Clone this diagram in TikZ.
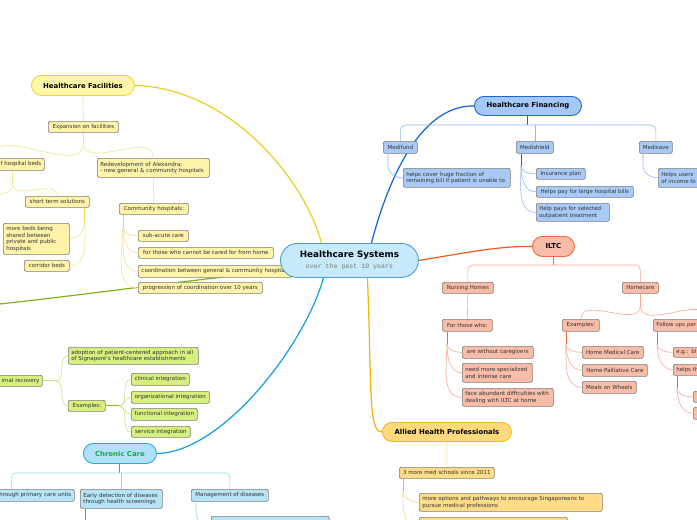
\documentclass[tikz,border=0pt]{standalone}
\usepackage{fontspec}
\setmainfont{DejaVu Sans}
\newfontfamily\monof{Liberation Mono}
\usetikzlibrary{calc}
\pgfdeclarelayer{bg}
\pgfsetlayers{bg,main}
\definecolor{subb}{HTML}{7E7E76}
\definecolor{subt}{HTML}{333333}
\definecolor{yfill}{HTML}{FEF3A9}
\definecolor{ytfill}{HTML}{FFF6AA}
\definecolor{ybord}{HTML}{EDD63C}
\definecolor{ymain}{HTML}{E9D01E}
\definecolor{ylight}{HTML}{F1E590}
\definecolor{bfill}{HTML}{A9CAF6}
\definecolor{btfill}{HTML}{A6C8F8}
\definecolor{bbord}{HTML}{1F66D2}
\definecolor{bmain}{HTML}{1063D6}
\definecolor{blight}{HTML}{92B7EE}
\definecolor{ofill}{HTML}{F8BCA9}
\definecolor{obord}{HTML}{F0693A}
\definecolor{omain}{HTML}{F05A22}
\definecolor{olight}{HTML}{F7A88E}
\definecolor{gfill}{HTML}{D5F07E}
\definecolor{gmain}{HTML}{7AB51D}
\definecolor{glight}{HTML}{C6E27E}
\definecolor{cfill}{HTML}{B6E3F6}
\definecolor{ctfill}{HTML}{B0E2F7}
\definecolor{cbord}{HTML}{2AA8E0}
\definecolor{cmain}{HTML}{12A0E2}
\definecolor{clight}{HTML}{92D6F2}
\definecolor{ctext}{HTML}{1BA548}
\definecolor{afill}{HTML}{FFDC88}
\definecolor{atfill}{HTML}{FFD97E}
\definecolor{abord}{HTML}{F5B820}
\definecolor{amain}{HTML}{F5B400}
\definecolor{alight}{HTML}{FFD27E}
\definecolor{cenfill}{HTML}{C6E9FB}
\definecolor{cenbord}{HTML}{4A9FDB}
\tikzset{
  sub/.style={draw=subb, line width=0.7pt, rounded corners=2pt, inner xsep=1.5pt, inner ysep=0.5pt,
    font=\fontsize{5.5}{6.6}\selectfont, text=subt, align=left},
  ttl/.style={line width=0.9pt, inner sep=1pt, font=\fontsize{6.9}{8}\selectfont\bfseries, text=black},
  mainline/.style={line width=1.2pt},
  lite/.style={line width=0.6pt},
  stem/.style={line width=1pt},
}
\newcommand{\nb}[7]{\node[#2,anchor=north west,minimum width={#5-(#3)},minimum height={#6-(#4)}] (#1) at (#3,-#4) {#7};}
\newcommand{\nbt}[8]{\node[#2,anchor=north west,inner xsep=3pt,text width={#5-(#3)-6},minimum height={#6-(#4)},align=#7] (#1) at (#3,-#4) {#8};}
\newcommand{\mb}[1]{\mbox{#1}}
\begin{document}
\begin{tikzpicture}[x=1pt,y=1pt]
\useasboundingbox (0,0) rectangle (697,-520);
\begin{scope}
\clip (0,0) rectangle (697,-520);
% ---------- Healthcare Facilities ----------
\nb{fac}{ttl,fill=ytfill,draw=ybord,rounded corners=10pt}{31}{75}{134}{95}{Healthcare Facilities}
\nb{exp}{sub,fill=yfill}{48}{121}{118}{132}{Expansion on facilities}
\nbt{hb}{sub,fill=yfill}{-60}{158}{44}{170}{right}{f hospital beds}
\nbt{redev}{sub,fill=yfill}{97}{158}{209}{177}{left}{\mb{Redevelopment of Alexandra;}\\\mb{- new general \& community hospitals}}
\nb{sts}{sub,fill=yfill}{25}{196}{89}{207}{short term solutions}
\nbt{mb}{sub,fill=yfill}{3}{223}{69}{254}{left}{\mb{more beds being}\\\mb{shared between}\\\mb{private and public}\\\mb{hospitals}}
\nb{cb}{sub,fill=yfill}{24}{260}{69}{271}{corridor beds}
\nb{ch}{sub,fill=yfill}{119}{203}{188}{214}{Community hospitals:}
\nb{sac}{sub,fill=yfill}{138}{230}{188}{241}{sub-acute care}
\nb{ftw}{sub,fill=yfill}{138}{247}{273}{258}{for those who cannot be cared for from home}
\nb{coord}{sub,fill=yfill}{138}{265}{292}{277}{coordination between general \& community hospitals}
\nb{prog}{sub,fill=yfill}{138}{282}{262}{293}{progression of coordination over 10 years}
% ---------- green branch ----------
\nbt{opt}{sub,fill=gfill}{-40}{375}{42}{386}{right}{imal recovery}
\nbt{adopt}{sub,fill=gfill}{68}{347}{198}{364}{left}{\mb{adoption of patient-centered approach in all}\\\mb{of Signapore's healthcare establishments}}
\nb{exg}{sub,fill=gfill}{68}{400}{105}{411}{Examples:}
\nb{ci}{sub,fill=gfill}{131}{373}{189}{385}{clinical integration}
\nb{oi}{sub,fill=gfill}{131}{391}{209}{403}{organizational integration}
\nb{fi}{sub,fill=gfill}{131}{408}{197}{420}{functional integration}
\nb{si}{sub,fill=gfill}{131}{426}{190}{437}{service integration}
% ---------- Chronic Care ----------
\nb{chr}{ttl,fill=ctfill,draw=cbord,rounded corners=10pt,text=ctext}{83}{443}{156}{463}{Chronic Care}
\nbt{pcu}{sub,fill=cfill}{-52}{489}{74}{501}{right}{hrough primary care units}
\nbt{ed}{sub,fill=cfill}{80}{489}{162}{508}{left}{\mb{Early detection of diseases}\\\mb{through health screenings}}
\nb{md}{sub,fill=cfill}{191}{489}{268}{501}{Management of diseases}
\nb{mdc}{sub,fill=cfill}{211}{516}{329}{540}{}
% ---------- Healthcare Financing ----------
\nb{fin}{ttl,fill=btfill,draw=bbord,rounded corners=9.5pt}{474}{96}{581}{115}{Healthcare Financing}
\nb{mf}{sub,fill=bfill}{383}{141}{417}{153}{Medifund}
\nb{ms}{sub,fill=bfill}{516}{141}{553}{153}{Medishield}
\nb{mv}{sub,fill=bfill}{639}{141}{672}{153}{Medisave}
\nbt{hc}{sub,fill=bfill}{403}{168}{510}{187}{left}{\mb{helps cover huge fraction of}\\\mb{remaining bill if patient is unable to}}
\nb{ip}{sub,fill=bfill}{536}{168}{585}{179}{Insurance plan}
\nb{hp}{sub,fill=bfill}{536}{186}{633}{197}{Helps pay for large hospital bills}
\nbt{hs}{sub,fill=bfill}{536}{203}{609}{221}{left}{\mb{Help pays for selected}\\\mb{outpatient treatment}}
\nbt{hu}{sub,fill=bfill}{658}{168}{740}{187}{left}{\mb{Helps users}\\\mb{of income fo}}
% ---------- ILTC ----------
\nb{iltc}{ttl,fill=ofill,draw=obord,rounded corners=10pt}{532}{236}{574}{256}{ILTC}
\nb{nh}{sub,fill=ofill}{442}{282}{493}{293}{Nursing Homes}
\nb{ftw2}{sub,fill=ofill}{442}{319}{492}{331}{For those who:}
\nb{wc}{sub,fill=ofill}{462}{346}{533}{358}{are without caregivers}
\nbt{nm}{sub,fill=ofill}{462}{363}{532}{382}{left}{\mb{need more specialized}\\\mb{and intense care}}
\nbt{fa}{sub,fill=ofill}{462}{388}{553}{406}{left}{\mb{face abundant difficulties with}\\\mb{dealing with ILTC at home}}
\nb{hmc}{sub,fill=ofill}{622}{282}{658}{293}{Homecare}
\nb{exo}{sub,fill=ofill}{562}{319}{599}{331}{Examples:}
\nb{hm}{sub,fill=ofill}{582}{346}{643}{358}{Home Medical Care}
\nb{hpc}{sub,fill=ofill}{582}{364}{647}{376}{Home Palliative Care}
\nb{mow}{sub,fill=ofill}{582}{381}{636}{393}{Meals on Wheels}
\nbt{fu}{sub,fill=ofill}{653}{319}{760}{331}{left}{Follow ups per}
\nbt{eg}{sub,fill=ofill}{673}{347}{740}{357}{left}{e.g.: bl}
\nbt{ht}{sub,fill=ofill}{673}{364}{740}{375}{left}{helps th}
\nb{hx}{sub,fill=ofill}{693}{391}{760}{402}{}
\nb{hy}{sub,fill=ofill}{693}{407}{760}{419}{}
% ---------- Allied Health ----------
\nb{all}{ttl,fill=atfill,draw=abord,rounded corners=9.5pt}{382}{422}{511}{441}{Allied Health Professionals}
\nb{med}{sub,fill=afill}{399}{467}{494}{478}{3 more med schools since 2011}
\nbt{mo}{sub,fill=afill}{419}{493}{602}{511}{left}{\mb{more options and pathways to encourage Singaporeans to}\\\mb{pursue medical professions}}
\nb{mo2}{sub,fill=afill}{419}{517}{567}{540}{}
% ---------- central ----------
\node[draw=cenbord, fill=cenfill, line width=0.9pt, rounded corners=17pt, anchor=north west,
  minimum width=138, minimum height=34, inner sep=1pt, align=center] (cen) at (280,-243)
  {{\fontsize{8.8}{10}\selectfont\bfseries Healthcare Systems}\\[-0.5pt]
   {\monof\fontsize{6.6}{8}\selectfont\color[HTML]{7A7A7A}over the past 10 years}};
\end{scope}
% ================= connectors =================
\begin{pgfonlayer}{bg}
\clip (0,0) rectangle (697,-520);
\fill[white] (0,0) rectangle (697,-520);
% main branches
\draw[mainline, ymain] ($(cen.north)+(-28,0)$) .. controls (305,-180) and (230,-88) .. (fac.east);
\draw[mainline, bmain] ($(cen.north)+(22,0)$) .. controls (388,-180) and (420,-105) .. (fin.west);
\draw[mainline, omain] (cen.east) .. controls (470,-252) and (500,-246) .. (iltc.west);
\draw[mainline, cmain] ($(cen.south)+(-26,0)$) .. controls (305,-345) and (222,-453) .. (chr.east);
\draw[mainline, amain] ($(cen.south)+(18,0)$) .. controls (372,-390) and (368,-432) .. (all.west);
\coordinate (gend) at (-20,-306);
\draw[mainline, gmain] ($(cen.west)+(8,-10)$) .. controls (200,-278) and (80,-296) .. (gend);
% facilities tree
\draw[lite, ylight] (fac.south) -- (exp.north);
\coordinate (s1) at ($(exp.south)+(0,-10)$);
\draw[lite, ylight] (exp.south) -- (s1);
\draw[lite, ylight] (s1) to[out=-90,in=90] (hb.north);
\draw[lite, ylight] (s1) to[out=-90,in=90] (redev.north);
\coordinate (h0) at ($(hb.south east)+(-32,0)$);
\coordinate (s2) at ($(h0)+(0,-13)$);
\coordinate (offl) at (-40,-205);
\draw[lite, ylight] (h0) -- (s2);
\draw[lite, ylight] (s2) to[out=-90,in=90] (sts.north);
\draw[lite, ylight] (s2) to[out=-90,in=90] (offl);
\coordinate (t0) at ($(sts.south east)+(-5,0)$);
\coordinate (s3) at ($(t0)+(0,-13)$);
\draw[stem, ybord] (t0) -- (s3);
\draw[lite, ylight] (s3) to[out=-90,in=0] (mb.east);
\draw[lite, ylight] (s3) to[out=-90,in=0] (cb.east);
\draw[lite, ylight] (redev.south) -- (ch.north);
\coordinate (c0) at ($(ch.south west)+(4,0)$);
\coordinate (s4) at ($(c0)+(0,-13)$);
\draw[stem, ybord] (c0) -- (s4);
\foreach \n in {sac,ftw,coord,prog} \draw[lite, ylight] (s4) to[out=-90,in=180] (\n.west);
% green tree
\coordinate (g1) at ($(opt.east)+(13,0)$);
\draw[stem, glight] (opt.east) -- (g1);
\draw[lite, glight] (g1) to[out=0,in=180] (adopt.west);
\draw[lite, glight] (g1) to[out=0,in=180] (exg.west);
\coordinate (g2) at ($(exg.east)+(13,0)$);
\draw[stem, gmain] (exg.east) -- (g2);
\foreach \n in {ci,oi,fi,si} \draw[lite, glight] (g2) to[out=0,in=180] (\n.west);
% chronic tree
\coordinate (cbar) at (0,-473);
\draw[stem, cbord] (chr.south) -- (chr.south |- cbar);
\draw[lite, clight, rounded corners=4pt] (pcu.north) |- (md.north |- cbar) -- (md.north);
\draw[lite, clight] (ed.north) -- (ed.north |- cbar);
\coordinate (e0) at ($(ed.south west)+(5,0)$);
\coordinate (eoff) at ($(e0)+(0,-30)$);
\draw[stem, cbord] (e0) -- (eoff);
\coordinate (m0) at ($(md.south west)+(5,0)$);
\coordinate (m1) at ($(m0)+(0,-9)$);
\draw[lite, clight] (m0) -- (m1) to[out=-90,in=180] (mdc.west);
% financing tree
\coordinate (fbar) at (0,-125);
\draw[stem, bbord] (fin.south) -- (fin.south |- fbar);
\draw[lite, blight, rounded corners=5pt] (mf.north) |- (mv.north |- fbar) -- (mv.north);
\draw[lite, blight] (ms.north) -- (ms.north |- fbar);
\coordinate (f0) at ($(mf.south west)+(5,0)$);
\coordinate (f1) at ($(f0)+(0,-12)$);
\draw[lite, blight] (f0) -- (f1) to[out=-90,in=180] (hc.west);
\coordinate (f2) at ($(ms.south west)+(5,0)$);
\coordinate (f3) at ($(f2)+(0,-12)$);
\draw[stem, bbord] (f2) -- (f3);
\foreach \n in {ip,hp,hs} \draw[lite, blight] (f3) to[out=-90,in=180] (\n.west);
\coordinate (f4) at ($(mv.south west)+(4,0)$);
\coordinate (f5) at ($(f4)+(0,-12)$);
\draw[lite, blight] (f4) -- (f5) to[out=-90,in=180] (hu.west);
% ILTC tree
\coordinate (ibar) at (0,-265);
\draw[stem, obord] (iltc.south) -- (iltc.south |- ibar);
\draw[lite, olight, rounded corners=5pt] (nh.north) |- (hmc.north |- ibar) -- (hmc.north);
\draw[lite, olight] (nh.south) -- (ftw2.north);
\coordinate (o0) at ($(ftw2.south west)+(5,0)$);
\coordinate (o1) at ($(o0)+(0,-12)$);
\draw[stem, obord] (o0) -- (o1);
\foreach \n in {wc,nm,fa} \draw[lite, olight] (o1) to[out=-90,in=180] (\n.west);
\coordinate (o2) at ($(hmc.south)+(0,-12)$);
\draw[lite, olight] (hmc.south) -- (o2);
\draw[lite, olight] (o2) to[out=-90,in=90] (exo.north);
\draw[lite, olight] (o2) to[out=-90,in=90] (fu.north);
\coordinate (o3) at ($(exo.south west)+(4,0)$);
\coordinate (o4) at ($(o3)+(0,-12)$);
\draw[stem, obord] (o3) -- (o4);
\foreach \n in {hm,hpc,mow} \draw[lite, olight] (o4) to[out=-90,in=180] (\n.west);
\coordinate (o5) at ($(fu.south west)+(4,0)$);
\coordinate (o6) at ($(o5)+(0,-12)$);
\draw[stem, obord] (o5) -- (o6);
\foreach \n in {eg,ht} \draw[lite, olight] (o6) to[out=-90,in=180] (\n.west);
\coordinate (o7) at ($(ht.south west)+(4,0)$);
\coordinate (o8) at ($(o7)+(0,-12)$);
\draw[stem, obord] (o7) -- (o8);
\foreach \n in {hx,hy} \draw[lite, olight] (o8) to[out=-90,in=180] (\n.west);
% allied tree
\draw[lite, alight] (all.south) -- (med.north);
\coordinate (a0) at ($(med.south west)+(4,0)$);
\coordinate (a1) at ($(a0)+(0,-12)$);
\draw[stem, abord] (a0) -- (a1);
\foreach \n in {mo,mo2} \draw[lite, alight] (a1) to[out=-90,in=180] (\n.west);
\end{pgfonlayer}
\end{tikzpicture}
\end{document}
